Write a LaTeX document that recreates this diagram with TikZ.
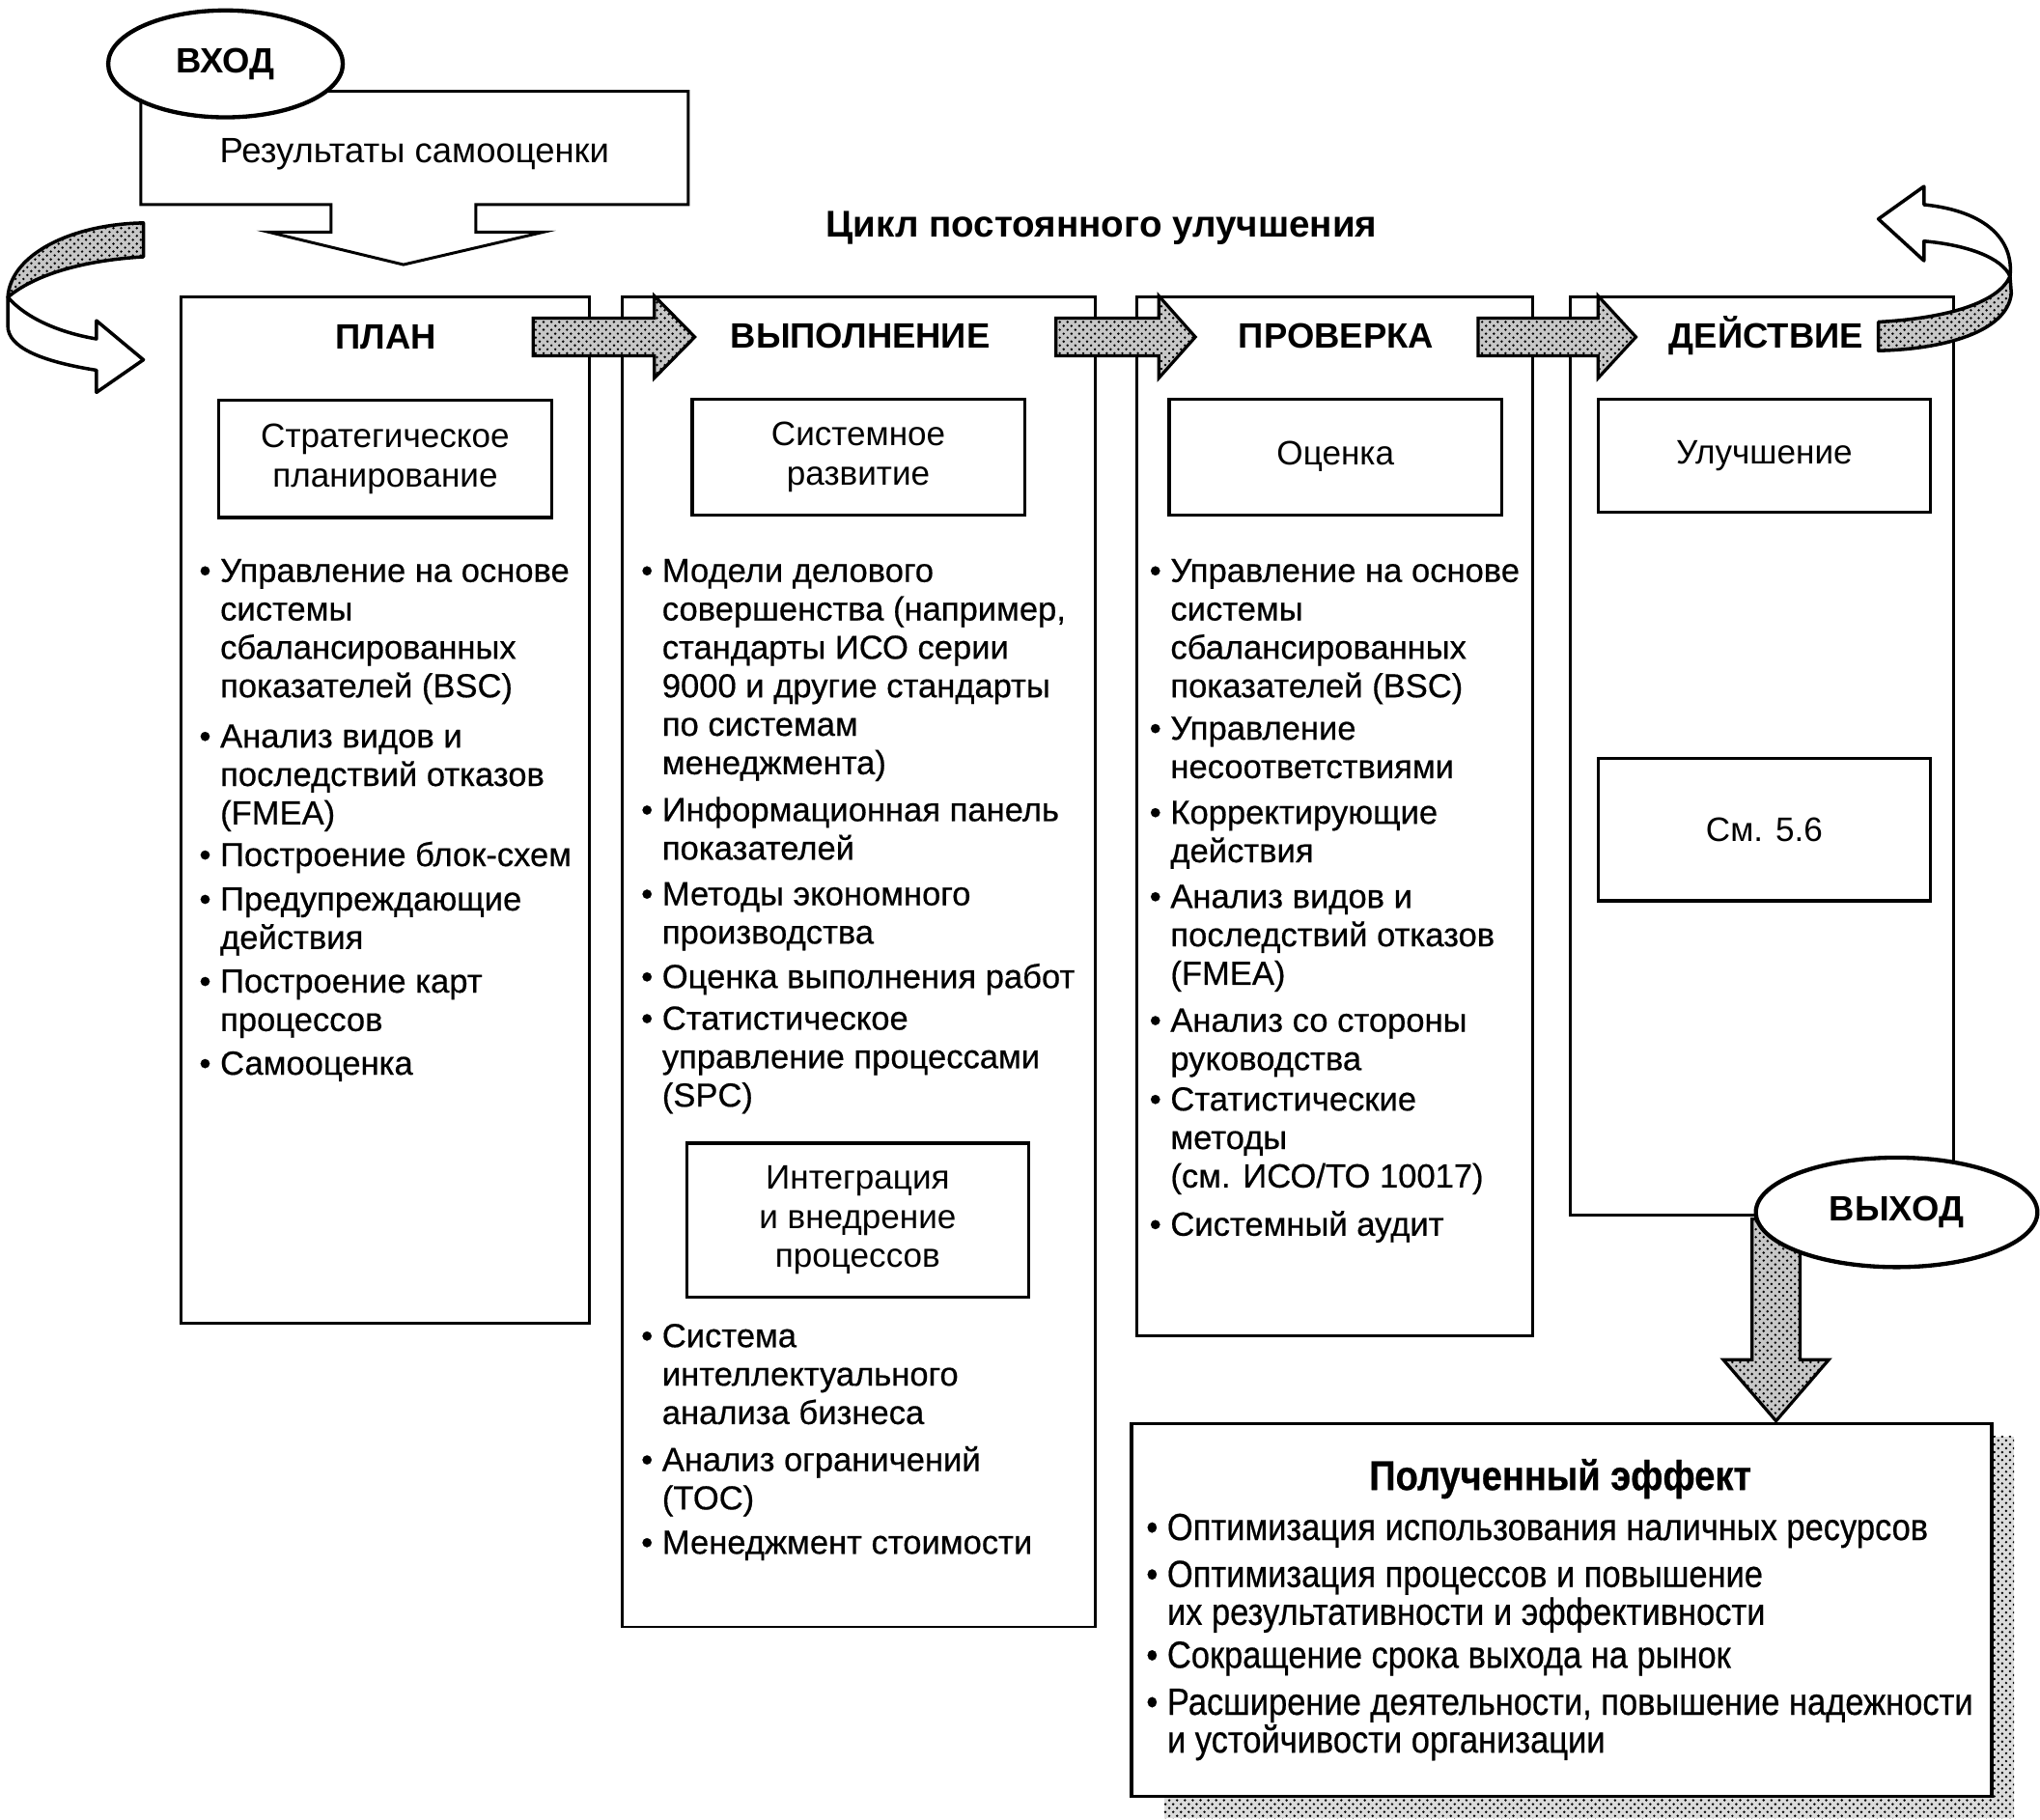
\documentclass[tikz,border=0pt]{standalone}
\usepackage{fontspec}
\setmainfont{Liberation Sans}
\newfontfamily\itemfont{Liberation Sans}[FakeBold=0.5]
\newfontfamily\narrowfont{Liberation Sans}[FakeStretch=0.88,FakeBold=0.5]
\usetikzlibrary{shapes.geometric,patterns}
\newcommand\fs[1]{\rule{0pt}{#1}}
\newcommand\ii{\phantom{•\ }}
\tikzset{
  colbox/.style={draw, line width=1.1pt, inner sep=0pt},
  ibox/.style={draw, line width=1.2pt, fill=white, align=center, inner sep=0pt,
    font=\fontsize{13}{15}\selectfont},
  hdr/.style={font=\bfseries\fontsize{13.5}{16}\selectfont, anchor=base, inner sep=0pt},
  lst/.style={anchor=north west, align=left, inner sep=0pt,
    font=\itemfont\fontsize{12.8}{14.75}\selectfont},
  blst/.style={anchor=north west, align=left, inner sep=0pt,
    font=\narrowfont\fontsize{14.5}{14.5}\selectfont},
  oval/.style={ellipse, draw, line width=1.6pt, fill=white, inner sep=0pt,
    font=\bfseries\fontsize{13.5}{16}\selectfont},
  dotfill/.style={draw, line width=1.2pt, line join=miter, preaction={fill=black!22}, pattern=crosshatch dots},
  ribbon/.style={draw, line width=1.3pt, fill=white, line join=round},
}
\begin{document}
\begin{tikzpicture}[x=0.5pt,y=-0.5pt]
\useasboundingbox (0,0) rectangle (1565,1396);

% title
\node[font=\bfseries\fontsize{14.3}{17}\selectfont, anchor=base, inner sep=0pt] (title) at (845,182) {Цикл постоянного улучшения};

% columns
\node[colbox, minimum width=156.5pt, minimum height=393.5pt] (plan) at (295.5,621.5) {};
\node[colbox, minimum width=181.5pt, minimum height=510pt] (exec) at (658.5,738) {};
\node[colbox, minimum width=152pt, minimum height=398.5pt] (check) at (1024,626.5) {};
\node[colbox, minimum width=147pt, minimum height=352pt] (act) at (1352,580) {};

% headers
\node[hdr] (hplan) at (296,268) {ПЛАН};
\node[hdr] (hexec) at (660,267) {ВЫПОЛНЕНИЕ};
\node[hdr] (hcheck) at (1025,267) {ПРОВЕРКА};
\node[hdr] (hact) at (1355,267) {ДЕЙСТВИЕ};

% inner boxes
\node[ibox, minimum width=127.5pt, minimum height=45pt] (strat) at (295.5,352) {Стратегическое\\планирование};
\node[ibox, minimum width=127.5pt, minimum height=44.5pt] (sysdev) at (658.5,350.5) {Системное\\развитие};
\node[ibox, minimum width=131pt, minimum height=59pt] (integ) at (658,936) {Интеграция\\и внедрение\\процессов};
\node[ibox, minimum width=127.5pt, minimum height=44.5pt] (ocenka) at (1024.5,350.5) {Оценка};
\node[ibox, minimum width=127.5pt, minimum height=43.5pt] (uluch) at (1353.5,349.5) {Улучшение};
\node[ibox, minimum width=127.5pt, minimum height=54.5pt] (sm) at (1353.5,636.5) {См. 5.6};

% block arrows between the columns
\draw[dotfill] (409,244) -- (502,244) -- (502,227) -- (533,258.5) -- (502,290) -- (502,273) -- (409,273) -- cycle;
\draw[dotfill] (810,244) -- (889,244) -- (889,227) -- (917,258.5) -- (889,290) -- (889,273) -- (810,273) -- cycle;
\draw[dotfill] (1134,244) -- (1226,244) -- (1226,227) -- (1255,258.5) -- (1226,290) -- (1226,273) -- (1134,273) -- cycle;

% lists
\node[lst] (lplan) at (152.5,426) {\fs{10pt}•\ Управление на основе\\
\ii системы\\
\ii сбалансированных\\
\ii показателей (BSC)\\[4.5pt]
•\ Анализ видов и\\
\ii последствий отказов\\
\ii (FMEA)\\[1.25pt]
•\ Построение блок-схем\\[2.25pt]
•\ Предупреждающие\\
\ii действия\\[2pt]
•\ Построение карт\\
\ii процессов\\[2pt]
•\ Самооценка};

\node[lst] (lexec) at (491.5,426) {\fs{10pt}•\ Модели делового\\
\ii совершенства (например,\\
\ii стандарты ИСО серии\\
\ii 9000 и другие стандарты\\
\ii по системам\\
\ii менеджмента)\\[3.25pt]
•\ Информационная панель\\
\ii показателей\\[2.75pt]
•\ Методы экономного\\
\ii производства\\[2.25pt]
•\ Оценка выполнения работ\\[1.25pt]
•\ Статистическое\\
\ii управление процессами\\
\ii (SPC)};

\node[lst] (lexecb) at (491.5,1013) {\fs{10pt}•\ Система\\
\ii интеллектуального\\
\ii анализа бизнеса\\[3.25pt]
•\ Анализ ограничений\\
\ii (TOC)\\[2.25pt]
•\ Менеджмент стоимости};

\node[lst] (lcheck) at (881.5,426) {\fs{10pt}•\ Управление на основе\\
\ii системы\\
\ii сбалансированных\\
\ii показателей (BSC)\\[1.5pt]
•\ Управление\\
\ii несоответствиями\\[2.75pt]
•\ Корректирующие\\
\ii действия\\[2.75pt]
•\ Анализ видов и\\
\ii последствий отказов\\
\ii (FMEA)\\[3.25pt]
•\ Анализ со стороны\\
\ii руководства\\[0.75pt]
•\ Статистические\\
\ii методы\\
\ii (см. ИСО/ТО 10017)\\[3.75pt]
•\ Системный аудит};

% left ribbon arrow
\draw[ribbon] (6,228) .. controls (20,244) and (45,255) .. (74,260) -- (74,246) -- (110,276) -- (74,301) -- (74,284)
  .. controls (30,277) and (6,266) .. (6,250) -- cycle;
\draw[ribbon, preaction={fill=black!22}, pattern=crosshatch dots] (110,171) .. controls (55,172) and (8,195) .. (6,228)
  .. controls (25,212) and (60,200) .. (110,197) -- cycle;

% right ribbon arrow
\draw[ribbon] (1476,157) .. controls (1525,162) and (1545,185) .. (1542,212)
  .. controls (1536,198) and (1510,188) .. (1476,185) -- (1476,200) -- (1441,168) -- (1476,143) -- cycle;
\draw[ribbon, preaction={fill=black!22}, pattern=crosshatch dots] (1441,247) .. controls (1495,244) and (1533,232) .. (1542,212)
  -- (1543,225) .. controls (1540,255) and (1490,268) .. (1441,269) -- cycle;

% input box with its open arrow
\draw[line width=1.1pt, fill=white, line join=miter] (108,70) -- (528,70) -- (528,157) -- (365,157) -- (365,178) -- (417,178)
  -- (309.5,203) -- (206,178) -- (254,178) -- (254,157) -- (108,157) -- cycle;
\node[anchor=base, inner sep=0pt, font=\fontsize{13.5}{16}\selectfont] (res) at (318,125) {Результаты самооценки};
\node[oval, minimum width=90pt, minimum height=41pt] (vhod) at (173,49) {ВХОД};

% output arrow and ellipse
\draw[dotfill] (1344,935) -- (1344,1043) -- (1322,1043) -- (1362.5,1090) -- (1403,1043) -- (1381,1043) -- (1381,935) -- cycle;
\node[oval, minimum width=108pt, minimum height=42pt] (vyhod) at (1455,930) {ВЫХОД};

% result box with shadow
\fill[preaction={fill=black!14}, pattern=crosshatch dots] (893,1102) rectangle (1545,1395);
\node[draw, line width=1.3pt, fill=white, minimum width=330pt, minimum height=143pt, inner sep=0pt] (effect) at (1198,1235) {};
\node[anchor=base, inner sep=0pt, font=\narrowfont\bfseries\fontsize{16}{18}\selectfont] (effhead) at (1197,1143) {Полученный эффект};
\node[blst] (leff) at (879,1159) {\fs{11pt}•\ Оптимизация использования наличных ресурсов\\[3.5pt]
•\ Оптимизация процессов и повышение\\
\ii их результативности и эффективности\\[2pt]
•\ Сокращение срока выхода на рынок\\[3.5pt]
•\ Расширение деятельности, повышение надежности\\
\ii и устойчивости организации};
\end{tikzpicture}
\end{document}
